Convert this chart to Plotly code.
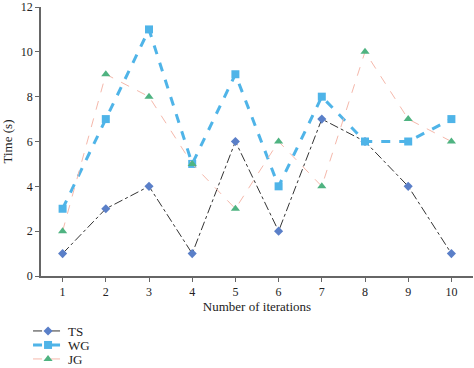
import plotly.graph_objects as go

iterations = [1, 2, 3, 4, 5, 6, 7, 8, 9, 10]
ts = [1, 3, 4, 1, 6, 2, 7, 6, 4, 1]
wg = [3, 7, 11, 5, 9, 4, 8, 6, 6, 7]
jg = [2, 9, 8, 5, 3, 6, 4, 10, 7, 6]

fig = go.Figure()
fig.add_trace(go.Scatter(
    x=iterations, y=ts, name="TS", mode="lines+markers", legend="legend",
    line=dict(color="#333333", width=1, dash="dashdot"),
    marker=dict(symbol="diamond", size=7, color="#5a7fc8"),
))
fig.add_trace(go.Scatter(
    x=iterations, y=wg, name="WG", mode="lines+markers", legend="legend2",
    line=dict(color="#4fb4e8", width=3, dash="dash"),
    marker=dict(symbol="square", size=8, color="#4fb4e8"),
))
fig.add_trace(go.Scatter(
    x=iterations, y=jg, name="JG", mode="lines+markers", legend="legend3",
    line=dict(color="#f5b8ab", width=1, dash="dash"),
    marker=dict(symbol="triangle-up", size=8, color="#4fb381"),
))

font = "Liberation Serif, Times New Roman, serif"
# plot area in px: top 7, bottom 276 (269 px tall)
def leg(ycenter_px):
    return dict(x=-0.030, y=(276 - ycenter_px) / 269.0, xanchor="left",
                yanchor="middle", orientation="v", font=dict(size=13),
                bgcolor="rgba(0,0,0,0)", borderwidth=0)

fig.update_layout(
    width=474, height=368,
    margin=dict(l=41, r=1, t=7, b=92, autoexpand=False),
    paper_bgcolor="white", plot_bgcolor="white",
    font=dict(family=font, size=12, color="#222222"),
    showlegend=True,
    legend=leg(331),
    legend2=leg(345),
    legend3=leg(359),
    xaxis=dict(range=[0.5, 10.5], tickvals=iterations, showgrid=False,
               zeroline=False, showline=True, linecolor="#666666", linewidth=1.5,
               ticks="outside", ticklen=4, tickcolor="#666666", automargin=False,
               title=dict(text="Number of iterations", standoff=4,
                          font=dict(size=13))),
    yaxis=dict(range=[0, 12], dtick=2, showgrid=False, zeroline=False,
               showline=True, linecolor="#666666", linewidth=1.5,
               ticks="outside", ticklen=4, tickcolor="#666666", automargin=False,
               title=dict(text="Time (s)", standoff=5, font=dict(size=13))),
)
fig.write_html("out.html", config={"displayModeBar": False},
               post_script="document.body.style.margin='0';document.body.style.overflow='hidden';")
